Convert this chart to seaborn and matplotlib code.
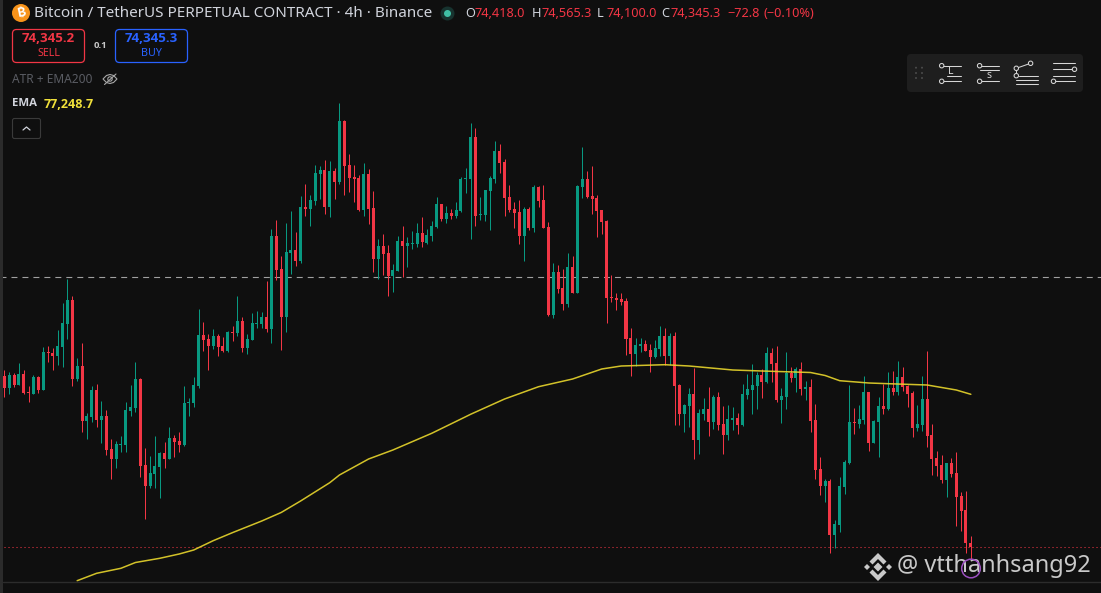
import matplotlib
matplotlib.use('Agg')
import matplotlib.pyplot as plt
import pandas as pd
import seaborn as sns
from matplotlib.patches import Circle, FancyBboxPatch, Polygon

# candle values (USDT)
open_px = [77760, 77527, 77773, 77580, 77793, 77440, 77407, 77740, 77487, 78240,
           78220, 78160, 78340, 78800, 79280, 77700, 77960, 76860, 76940, 77480,
           76880, 76953, 76300, 76100, 76387, 76380, 77060, 77120, 77700, 75980,
           75560, 75800, 75940, 76220, 76100, 76520, 76460, 76380, 77220, 77220,
           77560, 78580, 78500, 78360, 78560, 78360, 78260, 78640, 78620, 78860,
           78320, 78480, 78807, 78800, 78933, 78700, 80560, 79900, 78940, 80220,
           80280, 80060, 81140, 81100, 81260, 81800, 81880, 81140, 81860, 81640,
           82860, 81980, 81740, 81720, 81080, 81800, 81120, 80100, 80360, 80220,
           79760, 79860, 80460, 80360, 80400, 80400, 80620, 80420, 80560, 80740,
           81200, 80900, 81020, 80960, 81060, 81700, 81700, 82540, 80980, 80980,
           81460, 81700, 82260, 82040, 81340, 81100, 81040, 80560, 81100, 80720,
           81540, 81280, 80740, 78980, 79840, 79520, 79200, 79940, 79420, 81540,
           81700, 81360, 81320, 81080, 80860, 79340, 79320, 79300, 79260, 78520,
           78200, 78360, 78400, 78280, 78140, 78300, 78560, 78160, 78560, 77580,
           77000, 77160, 77400, 76480, 77000, 77100, 76840, 77340, 76800, 76580,
           76880, 76920, 76780, 77380, 77480, 77560, 77780, 77640, 78220, 78020,
           77280, 77340, 77820, 77720, 77900, 77500, 77540, 76880, 75900, 75560,
           75660, 74580, 74780, 75540, 76020, 76840, 76800, 76880, 77440, 76420,
           76840, 77160, 77100, 77520, 77440, 77740, 77560, 77420, 76720, 76780,
           77300, 76580, 76120, 75980, 75680, 76020, 75820, 75360, 75080, 74418.0]
high_px = [77880, 77833, 77813, 78013, 77873, 77560, 77773, 77760, 78333, 78353,
           78313, 78680, 79220, 79700, 79353, 78120, 78413, 77013, 77560, 77593,
           77253, 77080, 76500, 76453, 76553, 77233, 77580, 78033, 77713, 76320,
           76160, 76553, 76240, 76440, 76740, 76580, 76640, 77560, 77313, 77740,
           79093, 78840, 78600, 78700, 78600, 78533, 78660, 78760, 79360, 78940,
           78600, 79020, 79060, 79040, 79660, 80693, 80873, 80153, 80813, 81053,
           80633, 81353, 81600, 81373, 81980, 81960, 82080, 82060, 81913, 83213,
           82880, 82200, 81980, 81780, 82013, 81900, 81453, 80500, 80593, 80380,
           80000, 80560, 80760, 80540, 80660, 80820, 80940, 80700, 80860, 81340,
           81200, 81160, 81100, 81240, 81740, 81920, 82820, 82720, 81340, 81480,
           81760, 82460, 82400, 82100, 81580, 81240, 81280, 81140, 81140, 81580,
           81560, 81580, 80840, 80020, 79980, 79893, 80220, 80160, 81580, 82340,
           81860, 81960, 81380, 81080, 80880, 79780, 79420, 79420, 79320, 78720,
           78520, 78520, 78480, 78400, 78480, 78760, 78720, 78620, 78640, 77600,
           77200, 77520, 77920, 77100, 77320, 77540, 77380, 77440, 77160, 77180,
           77140, 77020, 77600, 77800, 78000, 77840, 77900, 78340, 78320, 78360,
           77520, 78240, 77940, 77940, 78040, 77660, 77693, 77200, 76140, 75700,
           75700, 74880, 75740, 76080, 77580, 77120, 77180, 77760, 77440, 76880,
           77340, 77600, 77840, 77860, 78060, 77940, 77580, 77460, 77180, 77760,
           78260, 76800, 76260, 76180, 76020, 76120, 76240, 75440, 75460, 74565.3]
low_px = [77347, 77407, 77547, 77580, 77400, 77247, 77407, 77427, 77480, 78047,
          77880, 77980, 77947, 78500, 77560, 77660, 76640, 76500, 76840, 76740,
          76420, 76180, 75700, 75920, 76240, 76240, 76960, 77040, 75740, 74900,
          75520, 75520, 75320, 75920, 76100, 76140, 76240, 76360, 76960, 77140,
          77520, 78260, 77880, 78300, 78160, 78240, 78240, 78460, 78560, 78240,
          78200, 78480, 78720, 78720, 78640, 78420, 79680, 78280, 78640, 79800,
          79960, 80020, 80960, 80760, 81180, 81300, 81000, 80940, 81300, 81600,
          81380, 81440, 81240, 81060, 80960, 80800, 79840, 79700, 79780, 79360,
          79440, 79860, 79740, 79940, 80300, 80340, 80340, 80400, 80460, 80720,
          80860, 80820, 80900, 80920, 81040, 81420, 80500, 80760, 80880, 80860,
          80680, 81620, 81820, 80960, 81040, 80720, 80400, 80060, 80680, 80640,
          81140, 80720, 78960, 78920, 79420, 79080, 79140, 79420, 79420, 81320,
          81320, 81000, 80540, 80600, 78820, 79240, 79080, 79180, 78180, 77760,
          77960, 78240, 78260, 77840, 78120, 78160, 77980, 77980, 76780, 76780,
          76640, 76740, 76100, 76200, 76880, 76560, 76700, 76680, 76200, 76480,
          76680, 76600, 76760, 77300, 77000, 77100, 77320, 77620, 77640, 77240,
          76820, 77100, 77640, 77440, 77380, 77280, 76640, 75700, 75380, 75240,
          74220, 74320, 74640, 75400, 76000, 76600, 76720, 76800, 76260, 76420,
          76140, 77000, 77080, 77380, 77380, 77460, 77140, 76540, 76660, 76660,
          76340, 75780, 75760, 75620, 75340, 75740, 74760, 74660, 74220, 74100.0]
close_px = [77527, 77773, 77580, 77793, 77420, 77420, 77740, 77480, 78233, 78227,
            78160, 78353, 78813, 79280, 77700, 77960, 76860, 76953, 77480, 76880,
            76953, 76280, 76100, 76400, 76400, 77080, 77140, 77700, 75960, 75560,
            75820, 75960, 76220, 76100, 76520, 76440, 76380, 77220, 77240, 77580,
            78580, 78480, 78360, 78560, 78340, 78260, 78640, 78627, 78860, 78320,
            78500, 78820, 78820, 78940, 78700, 80560, 79880, 78940, 80240, 80280,
            80060, 81140, 81100, 81273, 81820, 81880, 81140, 81860, 81640, 82860,
            81960, 81720, 81700, 81080, 81800, 81100, 80100, 80360, 80200, 79760,
            79880, 80460, 80360, 80420, 80420, 80620, 80440, 80580, 80760, 81200,
            80900, 81020, 80960, 81080, 81700, 81720, 82540, 80960, 81000, 81480,
            81720, 82260, 82020, 81320, 81080, 81020, 80560, 81100, 80720, 81540,
            81260, 80720, 78980, 79840, 79500, 79200, 79940, 79420, 81560, 81700,
            81340, 81300, 81060, 80840, 79320, 79320, 79280, 79240, 78500, 78200,
            78380, 78400, 78260, 78140, 78320, 78560, 78160, 78560, 77560, 77000,
            77180, 77400, 76480, 77020, 77100, 76840, 77340, 76780, 76580, 76900,
            76920, 76780, 77400, 77500, 77580, 77780, 77640, 78220, 78000, 77280,
            77360, 77820, 77720, 77900, 77500, 77540, 76860, 75880, 75560, 75660,
            74580, 74800, 75560, 76040, 76840, 76820, 76900, 77440, 76420, 76860,
            77160, 77100, 77520, 77440, 77740, 77540, 77400, 76720, 76800, 77300,
            76560, 76100, 75960, 75680, 76020, 75800, 75340, 75060, 74420, 74345.3]

ema_bar = [15, 19, 24, 27, 32, 36, 39, 43, 47, 53, 57, 61, 67, 69, 75, 80, 88, 95, 96,
           103, 110, 117, 123, 127, 136, 141, 150, 156, 166, 169, 172, 178, 182, 190, 196, 199]
ema_val = [73666, 73814, 73914, 74030, 74114, 74200, 74280, 74466, 74628, 74860, 75030,
           75260, 75626, 75780, 76100, 76280, 76614, 76946, 76994, 77300, 77546, 77700,
           77900, 77960, 77986, 77960, 77880, 77860, 77830, 77770, 77666, 77620, 77606,
           77580, 77480, 77394]

level_price = 79745

BG = '#0f0f0f'
UP = '#089981'
DOWN = '#f23645'

sns.set_theme(style='dark', rc={'axes.facecolor': BG, 'figure.facecolor': BG, 'lines.scale_dashes': False})
plt.rcParams['font.family'] = ['Noto Sans', 'DejaVu Sans']

df = pd.DataFrame({'open': open_px, 'high': high_px, 'low': low_px, 'close': close_px})
df['bar'] = df.index
df['colour'] = [UP if c >= o else DOWN for o, c in zip(df['open'], df['close'])]
df['top'] = df[['open', 'close']].max(axis=1)
df['bottom'] = df[['open', 'close']].min(axis=1)
ema = pd.DataFrame({'bar': ema_bar, 'ema': ema_val})

fig = plt.figure(figsize=(11.01, 5.93), dpi=100)
ax = fig.add_axes([0, 0, 1, 1])

ax.axhline(level_price, color='#a0a0a0', lw=0.8, ls=(0, (4.3, 3.6)), zorder=1)
ax.axhline(close_px[-1], color=DOWN, lw=0.75, ls=(0, (0.75, 2.13)), zorder=1)
wicks = ax.vlines(df['bar'], df['low'], df['high'], colors=df['colour'], lw=0.72, zorder=2)
wicks.set_snap(True)
ax.bar(df['bar'], df['top'] - df['bottom'], bottom=df['bottom'], width=0.618,
       color=df['colour'], linewidth=0, zorder=3)
sns.lineplot(data=ema, x='bar', y='ema', color='#e8d62c', lw=1.1, alpha=0.9, ax=ax, zorder=4)

ax.set_xlim(-0.89, 225.8)
ax.set_ylim(73420, 85280)
ax.set_axis_off()

# header, panels and watermark sit on a pixel overlay
ui = fig.add_axes([0, 0, 1, 1], facecolor='none')
ui.set_xlim(0, 1101)
ui.set_ylim(593, 0)
ui.set_axis_off()

ui.fill_between([0, 3], 0, 593, color='#2b2b2b', lw=0)
ui.plot([3, 1101], [581.5, 581.5], color='#2c2c2c', lw=1)


def label(x, y, s, color, size, ha='left', weight='normal', **kw):
    ui.text(x, y, s, color=color, fontsize=size, ha=ha, va='center', fontweight=weight, **kw)


ui.add_patch(Circle((21, 13), 9, color='#f7931a', lw=0))
label(21, 13, '₿', 'white', 9, ha='center', weight='bold', rotation=12,
      family=['Inter', 'Roboto', 'Open Sans', 'Lato', 'Noto Sans', 'Liberation Sans', 'DejaVu Sans'])
label(34, 13.5, 'Bitcoin / TetherUS PERPETUAL CONTRACT · 4h · Binance', '#d1d4dc', 11)

ui.add_patch(Circle((447.5, 13.5), 7, color='#17332f', lw=0))
ui.add_patch(Circle((447.5, 13.5), 3.5, color='#3fbfa5', lw=0))
ohlc = [(465, 'O', '74,418.0'), (531.5, 'H', '74,565.3'), (597, 'L', '74,100.0'), (661, 'C', '74,345.3')]
for x, k, v in ohlc:
    label(x, 13.5, k, '#d1d4dc', 9.2)
    label(x + 9.5, 13.5, v, DOWN, 9.2)
label(727.5, 13.5, '−72.8', DOWN, 9.2)
label(764, 13.5, '(−0.10%)', DOWN, 9.2)

for x0, col, price, side in [(12.5, DOWN, '74,345.2', 'SELL'), (115.5, '#2962ff', '74,345.3', 'BUY')]:
    ui.add_patch(FancyBboxPatch((x0, 29.5), 72, 33, boxstyle='round,pad=0,rounding_size=4',
                                fc=BG, ec=col, lw=0.9))
    label(x0 + 36, 38.5, price, col, 9.5, ha='center', weight='bold', family='Open Sans')
    label(x0 + 36, 53, side, col, 7.7, ha='center')
label(100, 46, '0.1', '#c8c8c8', 6.8, ha='center', weight='bold', family='Open Sans')

label(12, 79.5, 'ATR + EMA200', '#5a5c63', 8.6)
eye = [(103, 79), (106.5, 75.5), (110, 74.5), (113.5, 75.5), (117, 79), (113.5, 82.5), (110, 83.5), (106.5, 82.5)]
ui.add_patch(Polygon(eye, closed=True, fc='none', ec='#a8a8a8', lw=0.8))
ui.add_patch(Circle((110, 79), 2.2, fc='none', ec='#a8a8a8', lw=0.8))
ui.plot([104.5, 116], [84.5, 74], color='#a8a8a8', lw=0.8)

label(12, 104, 'EMA', '#d1d4dc', 8.2, weight='bold', family='Open Sans')
label(44, 104, '77,248.7', '#f0e03a', 9, weight='bold', family='Open Sans')

ui.add_patch(FancyBboxPatch((12.5, 118.5), 28, 20, boxstyle='round,pad=0,rounding_size=2',
                            fc=BG, ec='#3a3a3a', lw=0.8))
ui.plot([23, 26.5, 30], [130, 127, 130], color='#d1d4dc', lw=0.9)

# drawing toolbar
ui.add_patch(FancyBboxPatch((907, 54), 176, 38, boxstyle='round,pad=0,rounding_size=4', fc='#1e1e1e', lw=0))
for gx in (916, 922):
    for gy in (67.7, 73, 78):
        ui.add_patch(Circle((gx, gy), 1, color='#4a4a4a', lw=0))


def tool_lines(segments, knobs):
    for x0, x1, y in segments:
        ui.plot([x0, x1], [y, y], color='#d6d6d6', lw=0.75)
    for x, y in knobs:
        ui.add_patch(Circle((x, y), 2.2, fc='#1e1e1e', ec='#d6d6d6', lw=0.75, zorder=5))


tool_lines([(942, 960.5, 65.7), (946.5, 960.5, 76.3), (942, 960.5, 81.3)], [(941.7, 65.7), (941.7, 81.3)])
label(951, 71, 'L', '#d6d6d6', 7.5, ha='center')
tool_lines([(980, 999, 65.7), (979.5, 999, 70.3), (980, 999, 81.3)], [(979.6, 65.7), (979.6, 81.3)])
label(989, 76, 's', '#d6d6d6', 7.5, ha='center')
ui.plot([1016.3, 1030.6], [68.3, 63.3], color='#d6d6d6', lw=0.75)
ui.plot([1016.3, 1016.3], [68.3, 75.7], color='#d6d6d6', lw=0.75)
tool_lines([(1019, 1038, 75.7), (1016, 1038, 79.5), (1016, 1038, 83.5)],
           [(1030.6, 63.3), (1016.3, 68.3), (1016.3, 75.7)])
tool_lines([(1053, 1075, 63.3), (1053, 1075, 69.3), (1053, 1075, 75.7), (1053, 1075, 81.3)],
           [(1074.5, 69.3), (1053.5, 81.3)])

# watermark
mark = '#c9c9c9'
ui.add_patch(Polygon([(878, 553), (886.5, 561.5), (883.5, 564.5), (878, 559), (872.5, 564.5), (869.5, 561.5)], color=mark, lw=0))
ui.add_patch(Polygon([(878, 581), (886.5, 572.5), (883.5, 569.5), (878, 575), (872.5, 569.5), (869.5, 572.5)], color=mark, lw=0))
ui.add_patch(Polygon([(878, 562.5), (882.5, 567), (878, 571.5), (873.5, 567)], color=mark, lw=0))
ui.add_patch(Polygon([(867, 564), (870, 567), (867, 570), (864, 567)], color=mark, lw=0))
ui.add_patch(Polygon([(889, 564), (892, 567), (889, 570), (886, 567)], color=mark, lw=0))
label(897, 566, '@ vtthanhsang92', mark, 17)
ui.add_patch(Circle((971, 568.5), 9.3, fc='none', ec='#9c4fc0', lw=1.1, zorder=6))

fig.savefig('out.png', dpi=100, facecolor=BG)
